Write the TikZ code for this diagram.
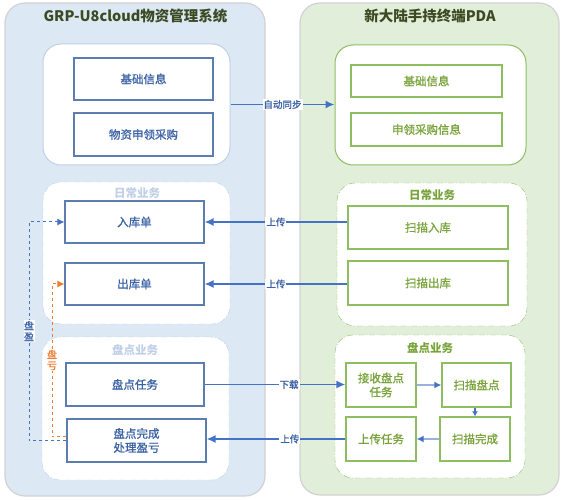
\documentclass[tikz,border=0pt]{standalone}
\usepackage{fontspec}
\setmainfont{Noto Sans CJK SC}
\newfontfamily\medfont[FakeBold=1.2]{Noto Sans CJK SC}
\usetikzlibrary{arrows.meta}
\definecolor{bluepanel}{HTML}{DCE8F4}
\definecolor{greenpanel}{HTML}{E1EED9}
\definecolor{boxblue}{HTML}{5B7DAF}
\definecolor{txtblue}{HTML}{3A62A5}
\definecolor{boxgreen}{HTML}{8DBE62}
\definecolor{txtgreen}{HTML}{78A33A}
\definecolor{arrblue}{HTML}{4472C4}
\definecolor{arrorange}{HTML}{ED7D31}
\definecolor{titlecol}{HTML}{3B4A22}
\definecolor{fadeblue}{HTML}{BFD0E8}

\begin{document}
\begin{tikzpicture}[x=1pt,y=-1pt,
  panel/.style={draw=gray!35,line width=1.2pt,rounded corners=20pt,inner sep=0pt},
  grp/.style={fill=white,rounded corners=18pt,inner sep=0pt},
  bbox/.style={draw=boxblue,line width=1.1pt,fill=white,text=txtblue,align=center,
    inner sep=0pt,font=\medfont\fontsize{11.5}{14}\selectfont},
  gbox/.style={draw=boxgreen,line width=1.3pt,fill=white,text=txtgreen,align=center,
    inner sep=0pt,font=\medfont\fontsize{11.5}{14}\selectfont},
  lnk/.style={arrblue,line width=1.6pt,-{Latex[length=9pt,width=8pt]}},
  lab/.style={fill=white,inner sep=1pt,text=txtblue,font=\medfont\fontsize{9.5}{11}\selectfont}]

\useasboundingbox (0,0) rectangle (563,500);

  \node (sysL) at (135,249.5) [panel,fill=bluepanel,minimum width=260,minimum height=493] {};
  \node (sysR) at (429.5,249) [panel,fill=greenpanel,minimum width=259,minimum height=492] {};
  \node (tL) at (135.5,16) [text=titlecol,font=\fontsize{14.5}{16}\selectfont\bfseries] {GRP-U8cloud物资管理系统};
  \node (tR) at (430,16) [text=titlecol,font=\fontsize{14.5}{16}\selectfont\bfseries] {新大陆手持终端PDA};

% groups
  \node (gjL) at (136.5,104.5) [grp,draw=fadeblue,line width=1pt,minimum width=187,minimum height=121] {};
  \node (gjR) at (430.5,105) [grp,draw=boxgreen,line width=1pt,minimum width=191,minimum height=120] {};
  \node (rcL) at (136.5,253) [grp,draw=fadeblue,dash pattern=on 6pt off 2pt on 1pt off 2pt,minimum width=187,minimum height=142] {};
  \node (rcR) at (432,254.5) [grp,draw=boxgreen,dash pattern=on 6pt off 2pt on 1pt off 2pt,minimum width=190,minimum height=143] {};
  \node (pdL) at (135.5,408.5) [grp,draw=fadeblue,dash pattern=on 6pt off 2pt on 1pt off 2pt,minimum width=187,minimum height=143] {};
  \node (pdR) at (430,406.5) [grp,draw=boxgreen,dash pattern=on 6pt off 2pt on 1pt off 2pt,minimum width=190,minimum height=143] {};

  \node (rcLt) at (137,193) [text=fadeblue,font=\fontsize{11.5}{14}\selectfont\bfseries] {日常业务};
  \node (rcRt) at (432,195) [text=txtgreen,font=\fontsize{11.5}{14}\selectfont\bfseries] {日常业务};
  \node (pdLt) at (135,350) [text=fadeblue,font=\fontsize{11.5}{14}\selectfont\bfseries] {盘点业务};
  \node (pdRt) at (430,348) [text=txtgreen,font=\fontsize{11.5}{14}\selectfont\bfseries] {盘点业务};

% boxes
  \node (jcxx) at (143.5,79) [bbox,minimum width=139,minimum height=42] {基础信息};
  \node (wzsl) at (143.5,134.5) [bbox,minimum width=139,minimum height=43] {物资申领采购};
  \node (jcxxR) at (426.5,81) [gbox,minimum width=151,minimum height=32] {基础信息};
  \node (slcg) at (426.5,129.5) [gbox,minimum width=151,minimum height=33] {申领采购信息};
  \node (rkd) at (134.5,222) [bbox,minimum width=139,minimum height=42] {入库单};
  \node (ckd) at (134.5,284) [bbox,minimum width=139,minimum height=42] {出库单};
  \node (smrk) at (428,227.5) [gbox,minimum width=160,minimum height=43] {扫描入库};
  \node (smck) at (428,283) [gbox,minimum width=160,minimum height=44] {扫描出库};
  \node (pdrw) at (135,384.5) [bbox,minimum width=138,minimum height=43] {盘点任务};
  \node (pdwc) at (136.5,440.5) [bbox,minimum width=139,minimum height=43] {盘点完成\\处理盈亏};
  \node (jspd) at (381,385) [gbox,minimum width=70,minimum height=44] {接收盘点\\任务};
  \node (smpd) at (476.5,385) [gbox,minimum width=69,minimum height=44] {扫描盘点};
  \node (scrw) at (381,439) [gbox,minimum width=70,minimum height=44] {上传任务};
  \node (smwc) at (475,439) [gbox,minimum width=70,minimum height=44] {扫描完成};

% links between the two systems
\draw[lnk] (gjL.east) -- (gjL.east -| gjR.west) node[lab,pos=0.5] {自动同步};
\draw[lnk] (rkd.east -| smrk.west) -- (rkd.east) node[lab,pos=0.5] {上传};
\draw[lnk] (ckd.east -| smck.west) -- (ckd.east) node[lab,pos=0.5] {上传};
\draw[lnk] (pdrw.east) -- (pdrw.east -| jspd.west) node[lab,pos=0.6] {下载};
\draw[lnk] (scrw.west) -- (scrw.west -| pdwc.east) node[lab,pos=0.4] {上传};

% inside the PDA
\draw[arrblue!55,line width=1.6pt,-{Latex[length=7pt,width=7pt,color=arrblue]}] (jspd) -- (smpd);
\draw[arrblue,line width=1.2pt,-{Latex[length=5pt,width=6pt]}] (smpd.south -| smwc) -- (smwc);
\draw[arrblue!55,line width=1.6pt,-{Latex[length=7pt,width=7pt,color=arrblue]}] (smwc) -- (scrw);

% stock differences
\draw[arrblue,line width=1pt,dashed,-{Latex[length=7pt,width=7pt]}]
   (pdwc.west) -| (29,300) |- (rkd.west);
\draw[arrorange,line width=1pt,dashed,-{Latex[length=7pt,width=7pt]}]
   ([yshift=4pt]pdwc.west) -| (52,320) |- (ckd.west);
  \node (py) at (29,331) [fill=white,inner sep=0.5pt,text=txtblue,align=center,
     font=\medfont\fontsize{10}{11}\selectfont] {盘\\盈};
  \node (pk) at (52,360) [fill=white,inner sep=0.5pt,text=arrorange,align=center,
     font=\medfont\fontsize{10}{11}\selectfont] {盘\\亏};
\end{tikzpicture}
\end{document}
